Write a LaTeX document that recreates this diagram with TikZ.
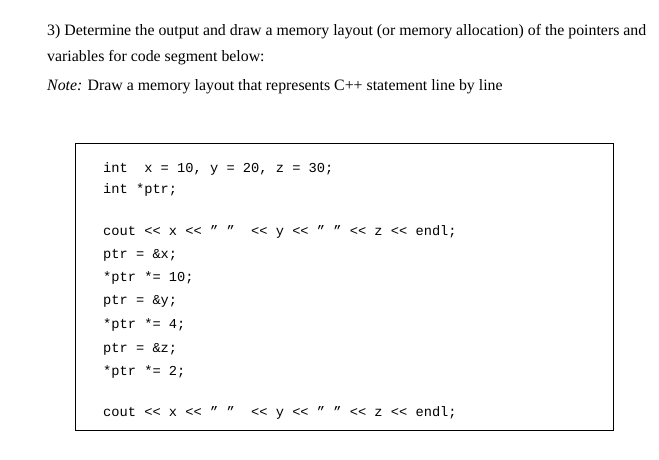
\documentclass[tikz,border=0pt]{standalone}
\usepackage{fontspec}
\setmainfont{Liberation Serif}
\newfontfamily\codefont{Liberation Mono}
\begin{document}
\begin{tikzpicture}[x=1pt,y=-1pt,
  txt/.style={anchor=base west,inner sep=0pt,font=\fontsize{15.85}{18}\selectfont},
  code/.style={anchor=base west,inner sep=0pt,font=\codefont\fontsize{13.7}{16}\selectfont}]
\useasboundingbox[fill=white] (0,0) rectangle (659,459);
\node[txt] (t1) at (47,35) {3) Determine the output and draw a memory layout (or memory allocation) of the pointers and};
\node[txt] (t2) at (47,61) {variables for code segment below:};
\node[txt] (t3) at (47,90) {\textit{Note:} Draw a memory layout that represents C++ statement line by line};
\draw[line width=0.8pt] (75,143) rectangle (613,430);
\node[code] (c1) at (103,172) {int\ \ x = 10, y = 20, z = 30;};
\node[code] (c2) at (103,193) {int *ptr;};
\node[code] (c3) at (103,235) {cout << x << ” ”\ \ << y << ” ” << z << endl;};
\node[code] (c4) at (103,258) {ptr = \&x;};
\node[code] (c5) at (103,281) {*ptr *= 10;};
\node[code] (c6) at (103,304) {ptr = \&y;};
\node[code] (c7) at (103,328) {*ptr *= 4;};
\node[code] (c8) at (103,352) {ptr = \&z;};
\node[code] (c9) at (103,375) {*ptr *= 2;};
\node[code] (c10) at (103,416) {cout << x << ” ”\ \ << y << ” ” << z << endl;};
\end{tikzpicture}
\end{document}
